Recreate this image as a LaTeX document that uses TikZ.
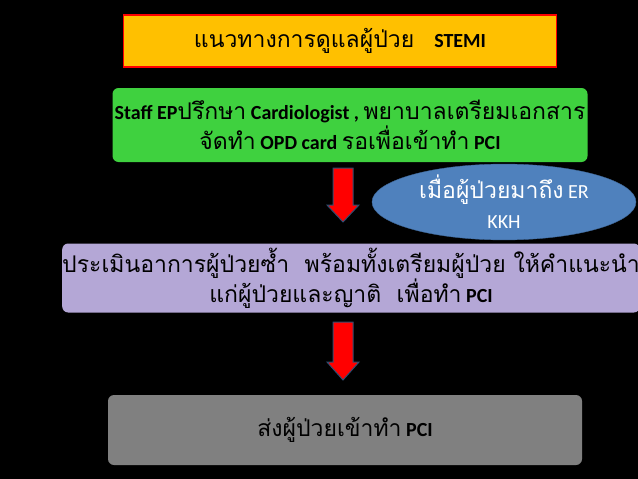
\documentclass[tikz,border=0pt]{standalone}
\usepackage{fontspec}
\setmainfont{Carlito}
\newfontfamily\thf[Script=Thai,Scale=1.15]{Loma}
\newcommand{\LB}[1]{{\bfseries #1}}
\usetikzlibrary{shapes.geometric}
\definecolor{gold}{HTML}{FFC000}
\definecolor{grn}{HTML}{3FD13F}
\definecolor{pur}{HTML}{B4A7D6}
\definecolor{blu}{HTML}{4F81BD}
\definecolor{gry}{HTML}{808080}
\tikzset{box/.style={rounded corners=6pt,align=center,font=\fontsize{20}{30}\selectfont,inner sep=0pt},
 dn/.style={fill=red,draw=blu!60!black,line width=1pt}}
\begin{document}
\begin{tikzpicture}[x=1pt,y=-1pt]
\fill[black] (0,0) rectangle (638,479);
\useasboundingbox (0,0) rectangle (638,479);
\node[draw=red,line width=1.2pt,fill=gold,minimum width=433pt,minimum height=52pt,font=\fontsize{20}{24}\selectfont] (t) at (340,41) {{\thf แนวทางการดูแลผู้ป่วย}\quad\LB{STEMI}};
\node[box,fill=grn,minimum width=475pt,minimum height=74pt] (g) at (350,125) {\LB{Staff EP}{\thf ปรึกษา} \LB{Cardiologist ,} {\thf พยาบาลเตรียมเอกสาร}\\{\thf จัดทำ} \LB{OPD card} {\thf รอเพื่อเข้าทำ} \LB{PCI}};
\coordinate (a1) at (343,168);
\draw[dn] (a1) ++(-10,0) -- ++(20,0) -- ++(0,37) -- ++(6,0) -- (343,222) -- (327,205) -- (333,205) -- cycle;
\node[ellipse,fill=blu,draw=blu!80!black,minimum width=264pt,minimum height=64pt,align=center,text=white,font=\fontsize{20}{30}\selectfont,inner sep=0pt] (e) at (504,202) {{\thf เมื่อผู้ป่วยมาถึง} ER\\KKH};
\node[box,fill=pur,minimum width=476pt,minimum height=69pt] (p) at (351,278) {{\thf ประเมินอาการผู้ป่วยซ้ำ\ \ พร้อมทั้งเตรียมผู้ป่วย ให้คำแนะนำ}\\{\thf แก่ผู้ป่วยและญาติ\ \ เพื่อทำ} \LB{PCI}};
\coordinate (a2) at (343,322);
\draw[dn] (a2) ++(-10,0) -- ++(20,0) -- ++(0,40) -- ++(6,0) -- (343,380) -- (327,362) -- (333,362) -- cycle;
\node[box,fill=gry,minimum width=474pt,minimum height=70pt] (s) at (345,430) {{\thf ส่งผู้ป่วยเข้าทำ} \LB{PCI}};
\end{tikzpicture}
\end{document}
